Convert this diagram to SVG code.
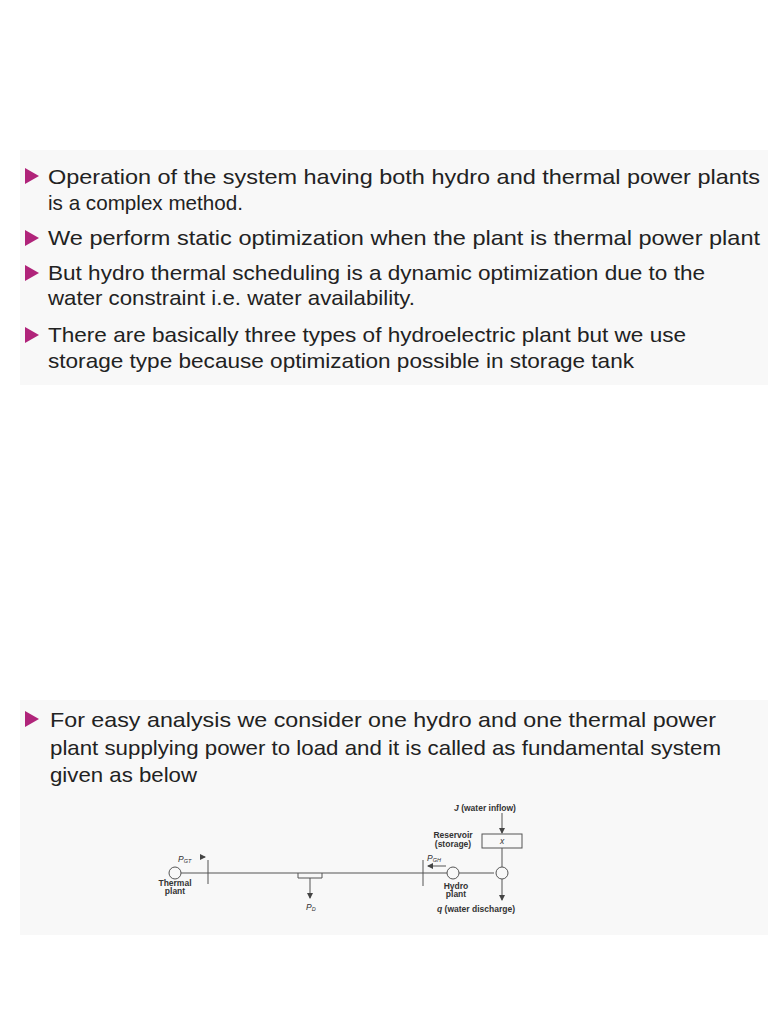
<svg xmlns="http://www.w3.org/2000/svg" width="768" height="1024" viewBox="0 0 768 1024">
<defs>
<style>
.t{font-family:"Liberation Sans",Arial,sans-serif;font-size:21px;fill:#222}
.s{font-family:"Liberation Sans",Arial,sans-serif;font-size:8.5px;fill:#333;font-weight:bold}
.si{font-family:"Liberation Sans",Arial,sans-serif;font-size:8.5px;font-style:italic;fill:#333}
.b{fill:#b0247a}
.l{stroke:#555;stroke-width:1;fill:none}
</style>
<marker id="a" markerWidth="6" markerHeight="6" refX="5" refY="3" orient="auto"><path d="M0,0 L6,3 L0,6 z" fill="#444"/></marker>
</defs>
<rect width="768" height="1024" fill="#fff"/>
<rect x="20" y="150" width="748" height="235" fill="#f8f8f8"/>
<rect x="20" y="700" width="748" height="235" fill="#f8f8f8"/>
<g id="text1">
<path class="b" d="M25,168 L39,176 L25,184 z"/>
<text class="t" x="48" y="184" textLength="712" lengthAdjust="spacingAndGlyphs">Operation of the system having both hydro and thermal power plants</text>
<text class="t" x="48" y="210" textLength="195" lengthAdjust="spacingAndGlyphs">is a complex method.</text>
<path class="b" d="M25,230 L39,238 L25,246 z"/>
<text class="t" x="48" y="245" textLength="712" lengthAdjust="spacingAndGlyphs">We perform static optimization when the plant is thermal power plant</text>
<path class="b" d="M25,265 L39,273 L25,281 z"/>
<text class="t" x="48" y="280" textLength="657" lengthAdjust="spacingAndGlyphs">But hydro thermal scheduling is a dynamic optimization due to the</text>
<text class="t" x="48" y="305" textLength="367" lengthAdjust="spacingAndGlyphs">water constraint i.e. water availability.</text>
<path class="b" d="M25,327 L39,335 L25,343 z"/>
<text class="t" x="48" y="342" textLength="638" lengthAdjust="spacingAndGlyphs">There are basically three types of hydroelectric plant but we use</text>
<text class="t" x="48" y="368" textLength="586" lengthAdjust="spacingAndGlyphs">storage type because optimization possible in storage tank</text>
<path class="b" d="M25,711 L39,719 L25,727 z"/>
<text class="t" x="50" y="727" textLength="666" lengthAdjust="spacingAndGlyphs">For easy analysis we consider one hydro and one thermal power</text>
<text class="t" x="50" y="755" textLength="671" lengthAdjust="spacingAndGlyphs">plant supplying power to load and it is called as fundamental system</text>
<text class="t" x="50" y="782" textLength="147" lengthAdjust="spacingAndGlyphs">given as below</text>
</g>
<g id="connectors">
<line class="l" x1="181" y1="873" x2="208" y2="873"/>
<line class="l" x1="208" y1="860" x2="208" y2="884" stroke-width="1.5"/>
<line class="l" x1="208" y1="873" x2="423" y2="873"/>
<line class="l" x1="423" y1="860" x2="423" y2="886" stroke-width="1.5"/>
<line class="l" x1="423" y1="873" x2="447" y2="873"/>
<line class="l" x1="459" y1="873" x2="494" y2="873"/>
<path class="l" d="M298,873 V878 H322 V873"/>
<line class="l" x1="310" y1="878" x2="310" y2="898" marker-end="url(#a)"/>
<line class="l" x1="200" y1="857" x2="205" y2="857" marker-end="url(#a)"/>
<line class="l" x1="446" y1="866" x2="428" y2="866" marker-end="url(#a)"/>
<line class="l" x1="502" y1="813" x2="502" y2="833" marker-end="url(#a)"/>
<line class="l" x1="502" y1="848" x2="502" y2="867"/>
<line class="l" x1="502" y1="879" x2="502" y2="900" marker-end="url(#a)"/>
</g>
<g id="thermal"><circle class="l" cx="175" cy="873" r="6"/>
<text class="si" x="178" y="862">P<tspan font-size="5.5" dy="1">GT</tspan></text>
<text class="s" x="175" y="886" text-anchor="middle">Thermal</text>
<text class="s" x="175" y="894" text-anchor="middle">plant</text></g>
<g id="load"><text class="si" x="306" y="910">P<tspan font-size="5.5" dy="1">D</tspan></text></g>
<g id="hydro"><circle class="l" cx="453" cy="873" r="6"/>
<text class="si" x="427" y="861">P<tspan font-size="5.5" dy="1">GH</tspan></text>
<text class="s" x="456" y="889" text-anchor="middle">Hydro</text>
<text class="s" x="456" y="897" text-anchor="middle">plant</text></g>
<g id="reservoir"><rect class="l" x="482" y="834" width="40" height="14"/>
<text class="si" x="502" y="844" text-anchor="middle">x</text>
<text class="s" x="453" y="838" text-anchor="middle">Reservoir</text>
<text class="s" x="453" y="847" text-anchor="middle">(storage)</text></g>
<g id="turbine"><circle class="l" cx="502" cy="873" r="6"/></g>
<text class="s" x="485" y="811" text-anchor="middle"><tspan font-style="italic">J</tspan> (water inflow)</text>
<text class="s" x="476" y="912" text-anchor="middle"><tspan font-style="italic">q</tspan> (water discharge)</text>
</svg>
